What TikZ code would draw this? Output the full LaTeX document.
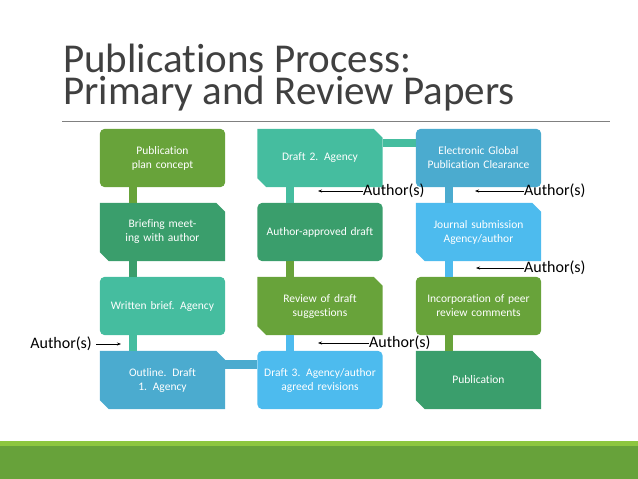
\documentclass[tikz,border=0pt]{standalone}
\usepackage{fontspec}
\setmainfont[Ligatures={NoCommon}]{Carlito}
\usetikzlibrary{backgrounds,arrows.meta}
\definecolor{lg}{HTML}{68A33A}
\definecolor{dg}{HTML}{3A9E6C}
\definecolor{tl}{HTML}{45BD9F}
\definecolor{bl}{HTML}{4BABCF}
\definecolor{lb}{HTML}{4DBBEE}
\definecolor{titlec}{HTML}{404040}
\definecolor{barlight}{HTML}{8DC63F}
\definecolor{bardark}{HTML}{67A23A}
\tikzset{
  box/.style={minimum width=125pt,minimum height=58pt,inner sep=0pt,text width=112pt,align=center,text=white,font=\fontsize{11.5}{14}\selectfont},
  auth/.style={inner sep=0pt,font=\fontsize{16}{18}\selectfont,text=black},
  arr/.style={-{Stealth[length=4pt,width=3pt]},line width=0.6pt},
}
\newcommand{\rndbox}[2]{\fill[#2,rounded corners=5pt] (#1.north west) rectangle (#1.south east);}
\newcommand{\snipbox}[2]{\fill[#2] (#1.north west) -- ([xshift=-9pt]#1.north east) -- ([yshift=-9pt]#1.north east) -- (#1.south east) -- ([xshift=9pt]#1.south west) -- ([yshift=9pt]#1.south west) -- cycle;}
\newcommand{\vlink}[3]{\fill[#3] ([xshift=29pt]#1.south west) rectangle ([xshift=37pt]#2.north west);}
\begin{document}
\begin{tikzpicture}[x=1pt,y=1pt]
\useasboundingbox (0,0) rectangle (638,-479);
\node[anchor=west,inner sep=0pt,text=titlec,font=\fontsize{41}{42}\selectfont] (t1) at (63,-58) {Publications Process:};
\node[anchor=west,inner sep=0pt,text=titlec,font=\fontsize{41}{42}\selectfont] (t2) at (63,-94) {Primary and Review Papers};
\draw[gray,line width=0.8pt] (62,-121) -- (610,-121);
\fill[barlight] (0,-441) rectangle (638,-446);
\fill[bardark] (0,-446) rectangle (638,-479);

\node[box] (a1) at (162.5,-158) {Publication plan concept};
\node[box] (a2) at (162.5,-232) {Briefing meeting with author};
\node[box] (a3) at (162.5,-306) {Written brief. Agency};
\node[box] (a4) at (162.5,-380) {Outline. Draft 1. Agency};
\node[box] (b1) at (320,-158) {Draft 2. Agency};
\node[box] (b2) at (320,-232) {Author-approved draft};
\node[box] (b3) at (320,-306) {Review of draft suggestions};
\node[box] (b4) at (320,-380) {Draft 3. Agency/author agreed revisions};
\node[box] (c1) at (478.5,-158) {Electronic Global Publication Clearance};
\node[box] (c2) at (478.5,-232) {Journal submission Agency/author};
\node[box] (c3) at (478.5,-306) {Incorporation of peer review comments};
\node[box] (c4) at (478.5,-380) {Publication};

\begin{scope}[on background layer]
\rndbox{a1}{lg}\snipbox{a2}{dg}\rndbox{a3}{tl}\snipbox{a4}{bl}
\snipbox{b1}{tl}\rndbox{b2}{dg}\snipbox{b3}{lg}\rndbox{b4}{lb}
\rndbox{c1}{bl}\snipbox{c2}{lb}\rndbox{c3}{lg}\snipbox{c4}{dg}
\vlink{a1}{a2}{lg}\vlink{a2}{a3}{dg}\vlink{a3}{a4}{tl}
\vlink{b1}{b2}{tl}\vlink{b2}{b3}{lg}\vlink{b3}{b4}{lb}
\vlink{c1}{c2}{bl}\vlink{c2}{c3}{lb}\vlink{c3}{c4}{lg}
\fill[tl] ([yshift=-10pt]b1.north east) rectangle ([yshift=-18pt]c1.north west);
\fill[bl] ([yshift=-9pt]a4.north east) rectangle ([yshift=-18pt]b4.north west);
\end{scope}

\node[auth,anchor=east] (l1) at (92,-344) {Author(s)};
\coordinate (e1) at (121,-344);
\draw[arr] ([xshift=4pt]l1.east) -- (e1);
\node[auth,anchor=west] (l2) at (363,-191) {Author(s)};
\coordinate (e2) at (318,-191);
\draw[arr] (l2.west) -- (e2);
\node[auth,anchor=west] (l3) at (524,-191) {Author(s)};
\coordinate (e3) at (475,-191);
\draw[arr] (l3.west) -- (e3);
\node[auth,anchor=west] (l4) at (524,-268) {Author(s)};
\coordinate (e4) at (476,-268);
\draw[arr] (l4.west) -- (e4);
\node[auth,anchor=west] (l5) at (369,-343) {Author(s)};
\coordinate (e5) at (318,-343);
\draw[arr] (l5.west) -- (e5);
\end{tikzpicture}
\end{document}
